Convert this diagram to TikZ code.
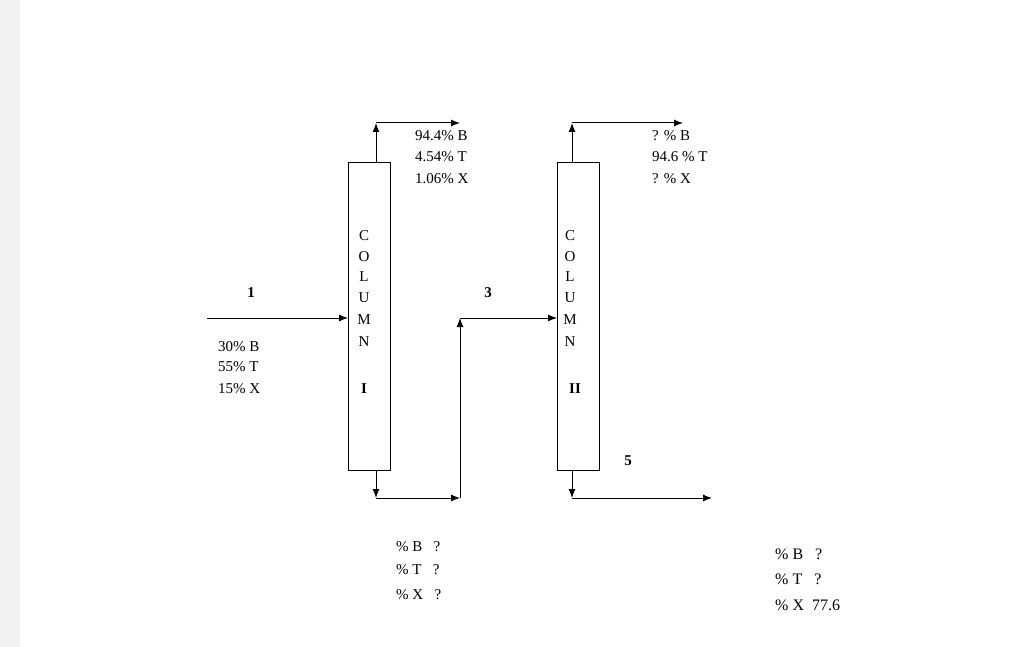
\documentclass[tikz,border=0pt]{standalone}
\usepackage{fontspec}
\setmainfont{Liberation Serif}
\begin{document}
\begin{tikzpicture}[x=1pt,y=-1pt,
  col/.style={draw,line width=1pt,minimum width=42pt,minimum height=307pt,inner sep=0pt},
  flow/.style={line width=1pt,-{Latex[length=9pt,width=7pt]}},
  lab/.style={font=\fontsize{15}{18}\selectfont,inner sep=0pt,anchor=west},
  num/.style={font=\fontsize{15}{18}\selectfont\bfseries,inner sep=0pt}]
\usetikzlibrary{arrows.meta}
\useasboundingbox (0,0) rectangle (1024,647);
\fill[gray!10] (0,0) rectangle (20,647);
\node[col] (c1) at (369,316.5) {};
\node[col] (c2) at (578.5,316.5) {};
\coordinate (t1a) at (376,163); \coordinate (t1b) at (376,123); \coordinate (t1c) at (460,123);
\coordinate (b1a) at (376,470); \coordinate (b1b) at (376,498); \coordinate (b1c) at (460,498);
\coordinate (m3a) at (460,318); \coordinate (m3b) at (557,318);
\coordinate (f1) at (207,318); \coordinate (f1b) at (348,318);
\coordinate (t2a) at (572,163); \coordinate (t2b) at (572,123); \coordinate (t2c) at (683,123);
\coordinate (b2a) at (572,470); \coordinate (b2b) at (572,498); \coordinate (b2c) at (712,498);
\draw[flow] (f1) -- (f1b);
\draw[flow] (t1a) -- (t1b);
\draw[flow] (t1b) -- (t1c);
\draw[flow] (b1a) -- (b1b);
\draw[flow] (b1b) -- (b1c);
\draw[flow] (b1c) -- (m3a);
\draw[flow] (m3a) -- (m3b);
\draw[flow] (t2a) -- (t2b);
\draw[flow] (t2b) -- (t2c);
\draw[flow] (b2a) -- (b2b);
\draw[flow] (b2b) -- (b2c);
\node[num] (n1) at (251,293) {1};
\node[num] (n3) at (488,293) {3};
\node[num] (n5) at (628,461) {5};
\foreach \l/\y [count=\i] in {C/236,O/257,L/277,U/298,M/320,N/342}{
  \node[font=\fontsize{15}{18}\selectfont,inner sep=0pt] (ca\i) at (364,\y) {\l};
  \node[font=\fontsize{15}{18}\selectfont,inner sep=0pt] (cb\i) at (570,\y) {\l};
}
\node[num] (r1) at (364,389) {I};
\node[num] (r2) at (575,389) {II};
\node[lab] (fa) at (218,347) {30\% B};
\node[lab] (fb) at (218,367) {55\% T};
\node[lab] (fc) at (218,389) {15\% X};
\node[lab] (ta) at (415,136) {94.4\% B};
\node[lab] (tb) at (415,157) {4.54\% T};
\node[lab] (tc) at (415,179) {1.06\% X};
\node[lab] (sa) at (652,136) {? \% B};
\node[lab] (sb) at (652,157) {94.6 \% T};
\node[lab] (sc) at (652,179) {? \% X};
\node[lab] (ba) at (396,547) {\% B\ \ \ ?};
\node[lab] (bb) at (396,570) {\% T\ \ \ ?};
\node[lab] (bc) at (396,595) {\% X\ \ \ ?};
\node[lab,font=\fontsize{16}{18}\selectfont] (da) at (775,554) {\% B\ \ \ ?};
\node[lab,font=\fontsize{16}{18}\selectfont] (db) at (775,579) {\% T\ \ \ ?};
\node[lab,font=\fontsize{16}{18}\selectfont] (dc) at (775,605) {\% X\ \ 77.6};
\end{tikzpicture}
\end{document}
